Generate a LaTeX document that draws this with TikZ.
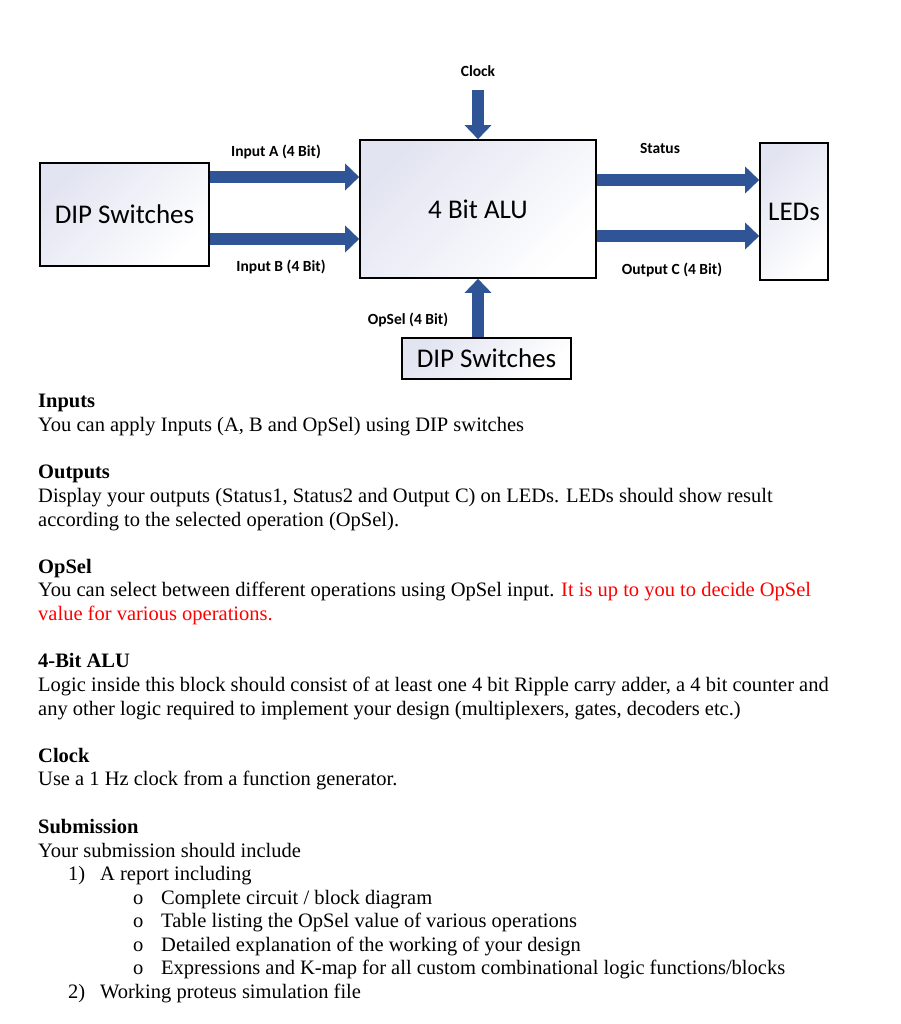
\documentclass[tikz,border=0pt]{standalone}
\usepackage{fontspec}
\setmainfont{Liberation Serif}
\newfontfamily\blockfont{Carlito}
\usetikzlibrary{arrows.meta}
\definecolor{busblue}{HTML}{2F5597}
\definecolor{blockshade}{HTML}{E2E4F1}
\definecolor{notered}{HTML}{FF0000}
\tikzset{
  block/.style={draw=black,line width=1.6pt,top color=blockshade,bottom color=white,
    shading angle=45,inner sep=0pt,font=\blockfont\fontsize{27}{30}\selectfont},
  bus/.style={draw=busblue,line width=12pt,-{Triangle[length=14pt,width=26pt]}},
  bus label/.style={inner sep=0pt,font=\blockfont\bfseries\fontsize{15.5}{18}\selectfont},
  heading/.style={anchor=base west,inner sep=0pt,font=\bfseries\fontsize{20.5}{24}\selectfont},
  body/.style={anchor=base west,inner sep=0pt,font=\fontsize{20.5}{24}\selectfont}
}

\begin{document}
\begin{tikzpicture}[x=1pt,y=-1pt]
  \useasboundingbox[fill=white] (0,0) rectangle (901,1024);
  % block diagram
  \node[block,minimum width=169pt,minimum height=103pt] (dipab) at (124.5,214.5) {DIP Switches};
  \node[block,minimum width=236pt,minimum height=138pt] (alu) at (478,209) {4 Bit ALU};
  \node[block,minimum width=68pt,minimum height=137pt] (leds) at (794,211.5) {LEDs};
  \node[block,minimum width=169pt,minimum height=41pt] (dipsel) at (486.5,358.5) {DIP Switches};
  \node[bus label] (clk) at (478,71) {Clock};
  \node[bus label] (ina) at (276,152) {Input A (4 Bit)};
  \node[bus label] (inb) at (281,267) {Input B (4 Bit)};
  \node[bus label] (stat) at (660,148) {Status};
  \node[bus label] (outc) at (672,270) {Output C (4 Bit)};
  \node[bus label] (opsel) at (408,320) {OpSel (4 Bit)};
  \draw[bus] (dipab.east |- 0,177) -- (alu.west |- 0,177);
  \draw[bus] (dipab.east |- 0,239) -- (alu.west |- 0,239);
  \draw[bus] (alu.east |- 0,180) -- (leds.west |- 0,180);
  \draw[bus] (alu.east |- 0,236) -- (leds.west |- 0,236);
  \draw[bus] (alu.north |- 0,90) -- (alu.north);
  \draw[bus] (alu.south |- dipsel.north) -- (alu.south);
  % description
  \node[heading] (hin) at (38,407) {Inputs};
  \node[body] (tin) at (38,431) {You can apply Inputs (A, B and OpSel) using DIP switches};
  \node[heading] (hout) at (38,478) {Outputs};
  \node[body] (tout1) at (38,502) {Display your outputs (Status1, Status2 and Output C) on LEDs. LEDs should show result};
  \node[body] (tout2) at (38,526) {according to the selected operation (OpSel).};
  \node[heading] (hsel) at (38,573) {OpSel};
  \node[body] (tsel1) at (38,596) {You can select between different operations using OpSel input. \textcolor{notered}{It is up to you to decide OpSel}};
  \node[body,text=notered] (tsel2) at (38,620) {value for various operations.};
  \node[heading] (halu) at (38,667) {4-Bit ALU};
  \node[body] (talu1) at (38,691) {Logic inside this block should consist of at least one 4 bit Ripple carry adder, a 4 bit counter and};
  \node[body] (talu2) at (38,715) {any other logic required to implement your design (multiplexers, gates, decoders etc.)};
  \node[heading] (hclk) at (38,762) {Clock};
  \node[body] (tclk) at (38,785) {Use a 1 Hz clock from a function generator.};
  \node[heading] (hsub) at (38,833) {Submission};
  \node[body] (tsub) at (38,857) {Your submission should include};
  \node[body] (num1) at (68,880) {1)};
  \node[body] (rep) at (100,880) {A report including};
  \foreach \yy/\item in {904/{Complete circuit / block diagram},
      927/{Table listing the OpSel value of various operations},
      951/{Detailed explanation of the working of your design},
      974/{Expressions and K-map for all custom combinational logic functions/blocks}}
  {
    \node[body] (dot\yy) at (133,\yy) {o};
    \node[body] (item\yy) at (161,\yy) {\item};
  }
  \node[body] (num2) at (68,998) {2)};
  \node[body] (sim) at (100,998) {Working proteus simulation file};
\end{tikzpicture}
\end{document}
